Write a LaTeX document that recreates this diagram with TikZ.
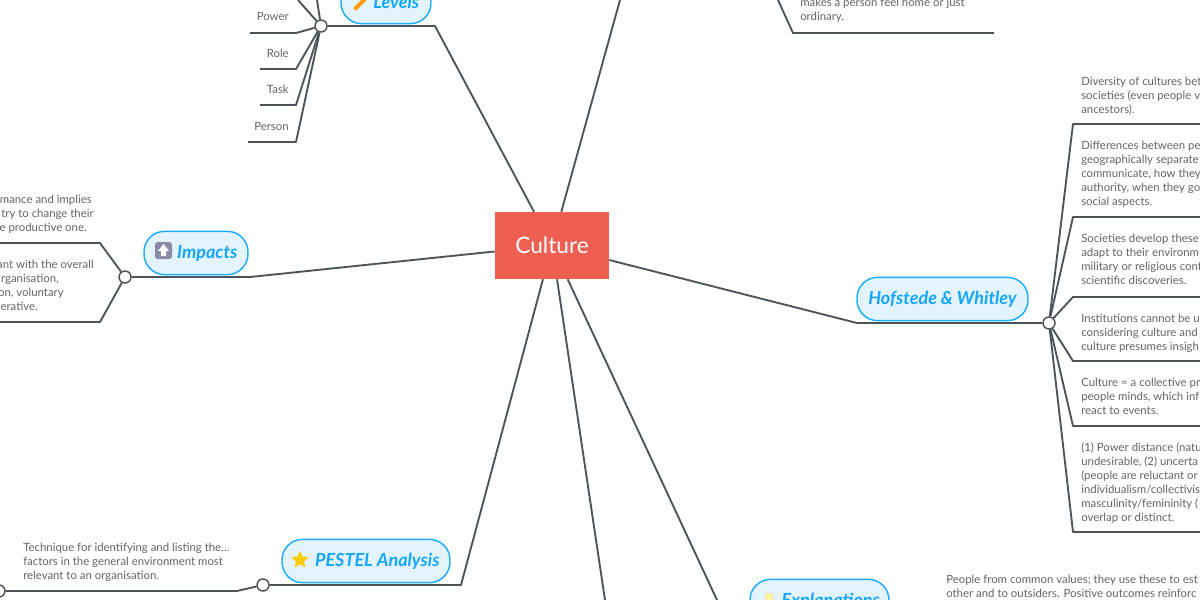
\documentclass[tikz,border=0pt]{standalone}
\usepackage{fontspec}
\setmainfont{Lato}
\usetikzlibrary{shapes.geometric}
\definecolor{linec}{HTML}{4A5459}
\definecolor{textc}{HTML}{5F6467}
\definecolor{pillfill}{HTML}{E3F4FE}
\definecolor{pilldraw}{HTML}{1EAEFF}
\definecolor{pilltext}{HTML}{14A6FF}
\definecolor{rootc}{HTML}{EE5F52}
\newcommand{\pilllabel}[2]{\hspace*{#1}\raisebox{-.7pt}{#2}}
\tikzset{
  x=.75pt,y=-.75pt,
  conn/.style={draw=linec,line width=1.4pt,line join=round},
  junction/.style={circle,draw=linec,fill=white,line width=1.1pt,minimum size=9pt,inner sep=0pt},
  pill/.style={draw=pilldraw,fill=pillfill,line width=1.1pt,rounded corners=15.5pt,minimum height=32.5pt,inner sep=0pt,text=pilltext,font=\fontsize{13.5}{15}\selectfont\bfseries\itshape},
  root/.style={fill=rootc,text=white,minimum width=85.5pt,minimum height=50.25pt,inner sep=0pt,font=\fontsize{17}{20}\selectfont},
  body/.style={text=textc,inner sep=0pt,align=left,anchor=north west,font=\fontsize{8.55}{10.5}\selectfont},
  bodyr/.style={text=textc,inner sep=0pt,anchor=base east,font=\fontsize{8.55}{10.5}\selectfont}
}
\begin{document}
\begin{tikzpicture}
\useasboundingbox (0,0) rectangle (1200,600);
\clip (0,0) rectangle (1200,600);
% central node
\node[root] (culture) at (552,245.5) {Culture};
% branch pills
\node[pill,minimum width=67.5pt] (levels) at (386,2) {\pilllabel{15.5pt}{Levels}};
\node[pill,minimum width=78pt] (impacts) at (196,253) {\pilllabel{17pt}{Impacts}};
\node[pill,minimum width=128.25pt] (hofstede) at (942.5,299) {\pilllabel{0pt}{Hofstede \& Whitley}};
\node[pill,minimum width=126pt] (pestel) at (366,561) {\pilllabel{17pt}{PESTEL Analysis}};
\node[pill,minimum width=104.25pt] (explain) at (819.5,601) {\pilllabel{17pt}{Explanations}};
% junctions
\node[junction] (jlevels) at (321,26) {};
\node[junction] (jimpacts) at (125,277) {};
\node[junction] (jhof) at (1049,323) {};
\node[junction] (jpestel) at (263,585) {};
\node[junction] (jtech) at (-1,591) {};
% bend and free-end coordinates
\coordinate (blevels) at (435,26);
\coordinate (bimpacts) at (250,277);
\coordinate (bhof) at (857,323);
\coordinate (bpestel) at (461,585);
\coordinate (btop) at (620,0);
\coordinate (bbottom) at (605,600);
\coordinate (bexplain) at (717,600);
\coordinate (btr1) at (778,0);
\coordinate (btr2) at (793,33);
\coordinate (btr3) at (994,33);
% main connectors
\draw[conn] (culture) -- (blevels) -- (jlevels);
\draw[conn] (culture) -- (bimpacts) -- (jimpacts);
\draw[conn] (culture) -- (bhof) -- (jhof);
\draw[conn] (culture) -- (bpestel) -- (jpestel);
\draw[conn] (culture) -- (btop);
\draw[conn] (culture) -- (bbottom);
\draw[conn] (culture) -- (bexplain);
\draw[conn] (btr1) -- (btr2) -- (btr3);
% Levels children
\coordinate (u1) at (298,0);
\coordinate (u2) at (317,0);
\coordinate (l1a) at (296,33); \coordinate (l1b) at (250,33);
\coordinate (l2a) at (296,69); \coordinate (l2b) at (260,69);
\coordinate (l3a) at (296,105); \coordinate (l3b) at (260,105);
\coordinate (l4a) at (296,142); \coordinate (l4b) at (248,142);
\draw[conn] (jlevels) -- (u1);
\draw[conn] (jlevels) -- (u2);
\draw[conn] (jlevels) -- (l1a) -- (l1b);
\draw[conn] (jlevels) -- (l2a) -- (l2b);
\draw[conn] (jlevels) -- (l3a) -- (l3b);
\draw[conn] (jlevels) -- (l4a) -- (l4b);
\node[bodyr] (tpower) at (289,20) {Power};
\node[bodyr] (trole) at (289,57) {Role};
\node[bodyr] (ttask) at (289,93) {Task};
\node[bodyr] (tperson) at (289,130) {Person};
% Impacts children
\coordinate (i1a) at (100,243); \coordinate (i1b) at (-5,243);
\coordinate (i2a) at (100,322); \coordinate (i2b) at (-5,322);
\draw[conn] (jimpacts) -- (i1a) -- (i1b);
\draw[conn] (jimpacts) -- (i2a) -- (i2b);
\node[bodyr] (ti1) at (92,203) {mance and implies};
\node[bodyr] (ti2) at (94,217) {try to change their};
\node[bodyr] (ti3) at (87,231) {e productive one.};
\node[bodyr] (ti4) at (94,268) {ant with the overall};
\node[bodyr] (ti5) at (59,282) {rganisation,};
\node[bodyr] (ti6) at (64,296) {on, voluntary};
\node[bodyr] (ti7) at (38,310) {perative.};
% Hofstede children
\coordinate (h1a) at (1073,124); \coordinate (h1b) at (1205,124);
\coordinate (h2a) at (1073,217); \coordinate (h2b) at (1205,217);
\coordinate (h3a) at (1073,297); \coordinate (h3b) at (1205,297);
\coordinate (h4a) at (1073,361); \coordinate (h4b) at (1205,361);
\coordinate (h5a) at (1073,426); \coordinate (h5b) at (1205,426);
\coordinate (h6a) at (1073,532); \coordinate (h6b) at (1205,532);
\draw[conn] (jhof) -- (h1a) -- (h1b);
\draw[conn] (jhof) -- (h2a) -- (h2b);
\draw[conn] (jhof) -- (h3a) -- (h3b);
\draw[conn] (jhof) -- (h4a) -- (h4b);
\draw[conn] (jhof) -- (h5a) -- (h5b);
\draw[conn] (jhof) -- (h6a) -- (h6b);
\node[body] (th1) at (1081,77) {Diversity of cultures bet\\societies (even people v\\ancestors).};
\node[body] (th2) at (1081,141) {Differences between pe\\geographically separate\\communicate, how they\\authority, when they go\\social aspects.};
\node[body] (th3) at (1081,234) {Societies develop these\\adapt to their environm\\military or religious cont\\scientific discoveries.};
\node[body] (th4) at (1081,314) {Institutions cannot be u\\considering culture and\\culture presumes insigh};
\node[body] (th5) at (1081,378) {Culture = a collective pr\\people minds, which inf\\react to events.};
\node[body] (th6) at (1081,442) {(1) Power distance (natu\\undesirable, (2) uncerta\\(people are reluctant or\\individualism/collectivis\\masculinity/femininity (\\overlap or distinct.};
% PESTEL child
\coordinate (p1) at (237,591);
\coordinate (p2) at (-8,540);
\draw[conn] (jpestel) -- (p1) -- (jtech);
\draw[conn] (jtech) -- (p2);
\node[body] (tp) at (23,543) {Technique for identifying and listing the…\\factors in the general environment most\\relevant to an organisation.};
% other text
\node[body] (ttr) at (800,-2) {makes a person feel home or just\\ordinary.};
\node[body] (tex) at (946,575) {People from common values; they use these to est\\other and to outsiders. Positive outcomes reinforc};
% icons
\fill[fill=orange!80!yellow,rotate around={45:(361,3)}] (352,1) rectangle (368,5);
\fill[fill=black!70,rotate around={45:(361,3)}] (368,1) -- (368,5) -- (371,3) -- cycle;
\fill[rounded corners=2pt,fill=blue!15!gray!80] (155,242) rectangle (172,259);
\fill[white] (163.5,244) -- (169,251) -- (166,251) -- (166,256) -- (161,256) -- (161,251) -- (158,251) -- cycle;
\node[star,star points=5,star point ratio=2.2,fill=yellow!65!orange,inner sep=0pt,minimum size=14pt] (istar) at (300,560) {};
\fill[yellow!40!white,draw=orange!40,line width=.4pt] (769,597) circle (4);
\end{tikzpicture}
\end{document}
